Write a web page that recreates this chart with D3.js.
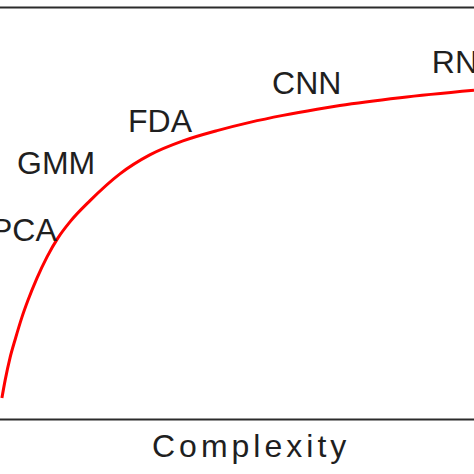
<!DOCTYPE html>
<html>
<head>
<meta charset="utf-8">
<script src="https://cdn.jsdelivr.net/npm/d3@7"></script>
<style>
  html, body { margin: 0; padding: 0; background: #fff; }
  svg { display: block; }
</style>
</head>
<body>
<svg width="474" height="474"></svg>
<script>
// complexity vs performance (arbitrary units 0-100)
var complexity = [0.4, 1.1, 2.1, 3.2, 4.6, 5.9, 7.8, 9.9, 12.2, 14.8, 19, 25.3, 31.6, 38.6, 45.8, 52.7, 59.7, 66.9, 71.7, 84.4, 100]
var performance = [5.1, 9.5, 14.8, 19.3, 24.6, 28.8, 34.2, 39.3, 43.9, 47.9, 53.0, 59.5, 64.1, 67.5, 70.0, 72.0, 73.7, 75.2, 76.1, 78.0, 79.8]

// method labels and where they sit (same units)
var methods = ['PCA', 'GMM', 'FDA', 'CNN', 'RNN']
var methodX = [-1.9, 3.6, 27, 57.4, 91.1]
var methodY = [43.2, 59.5, 69.7, 78.9, 84.0]

var xTitle = 'Complexity'

var svg = d3.select('svg')

var x = d3.scaleLinear().domain([0, 100]).range([0, 474])
var y = d3.scaleLinear().domain([0, 100]).range([419, 7])

// frame, sides run off the picture
svg.append('rect')
  .attr('x', -10)
  .attr('y', y(100) + 0.5)
  .attr('width', 500)
  .attr('height', y(0) - y(100))
  .attr('fill', 'none')
  .attr('stroke', '#2b2b2b')
  .attr('stroke-width', 2)

var pts = complexity.map(function(c, i){ return [c, performance[i]] })

var line = d3.line()
  .x(function(d){ return x(d[0]) })
  .y(function(d){ return y(d[1]) })
  .curve(d3.curveMonotoneX)

svg.append('path')
  .datum(pts)
  .attr('d', line)
  .attr('fill', 'none')
  .attr('stroke', '#ff0000')
  .attr('stroke-width', 3)

svg.selectAll('text.method')
  .data(methods)
  .enter()
  .append('text')
  .classed('method', true)
  .attr('x', function(d, i){ return x(methodX[i]) })
  .attr('y', function(d, i){ return y(methodY[i]) })
  .attr('font-family', 'Liberation Sans, Arial, sans-serif')
  .attr('font-size', 32)
  .attr('fill', '#1f1f1f')
  .text(function(d){ return d })

svg.append('text')
  .attr('x', 152)
  .attr('y', 457)
  .attr('font-family', 'Liberation Sans, Arial, sans-serif')
  .attr('font-size', 32)
  .attr('letter-spacing', 4)
  .attr('fill', '#1f1f1f')
  .text(xTitle)
</script>
</body>
</html>
